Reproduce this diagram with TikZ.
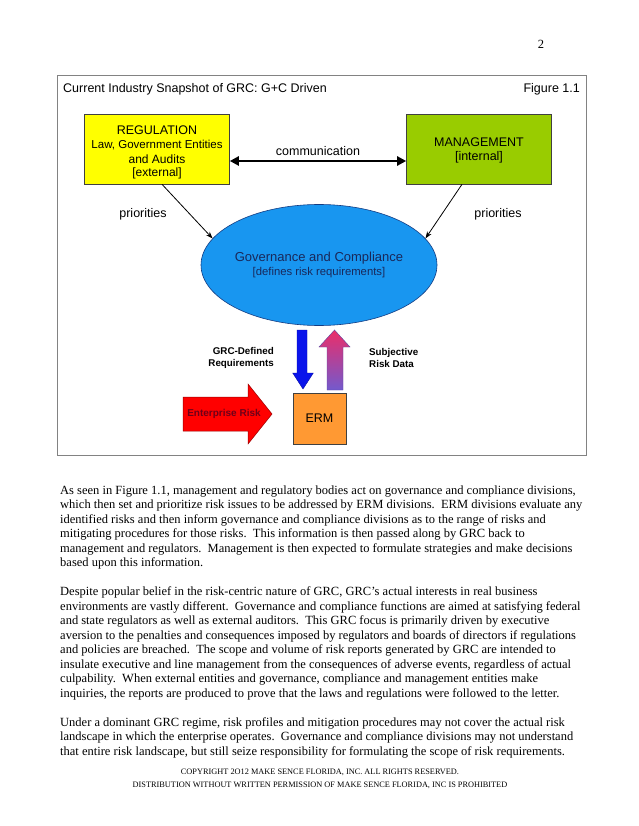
\documentclass[tikz,border=0pt]{standalone}
\usepackage{fontspec}
\setmainfont{Liberation Serif}
\newfontfamily\arialf{Liberation Sans}
\usetikzlibrary{arrows.meta,calc,shapes.geometric}
\definecolor{regyellow}{RGB}{255,255,0}
\definecolor{mgmtgreen}{RGB}{153,204,0}
\definecolor{gcblue}{RGB}{24,150,240}
\definecolor{gcedge}{RGB}{20,60,130}
\definecolor{gctext}{RGB}{25,40,90}
\definecolor{ermorange}{RGB}{255,153,51}
\definecolor{arrblue}{RGB}{10,20,235}
\definecolor{arrpinktop}{RGB}{235,45,105}
\definecolor{arrpinkbot}{RGB}{115,90,205}
\definecolor{arrred}{RGB}{255,0,0}
\definecolor{erisk}{RGB}{110,0,25}
\definecolor{framegray}{RGB}{130,130,130}
\begin{document}
\begin{tikzpicture}[x=1pt,y=-1pt,
  bodytxt/.style={anchor=base west,inner sep=0pt,font=\fontsize{12.5}{14.5}\selectfont},
  copytxt/.style={anchor=base,inner sep=0pt,font=\fontsize{8.3}{10}\selectfont},
  sanstxt/.style={inner sep=0pt,font=\arialf\fontsize{12.5}{14}\selectfont},
  boldlbl/.style={inner sep=0pt,align=#1,font=\arialf\bfseries\fontsize{9.8}{12}\selectfont},
  boxstyle/.style={draw=black!75,line width=0.6pt,minimum width=145pt,minimum height=70pt,inner sep=0pt,align=center,font=\arialf\fontsize{12}{14}\selectfont},
  thinarrow/.style={-{Stealth[length=7pt,width=5pt]},line width=0.8pt},
]
\useasboundingbox (0,0) rectangle (638,826);
\fill[white] (0,0) rectangle (638,826);

% page number
\node[anchor=base,inner sep=0pt,font=\fontsize{12.5}{14.5}\selectfont] (pagenum) at (541,49) {2};

% frame
\node[draw=framegray,line width=0.8pt,minimum width=529pt,minimum height=380pt,inner sep=0pt] (frame) at (321.5,265) {};
\node[sanstxt,anchor=base west] (title) at (63,93) {Current Industry Snapshot of GRC: G+C Driven};
\node[sanstxt,anchor=base east] (fig) at (580,93) {Figure 1.1};

% boxes
\node[boxstyle,fill=regyellow] (reg) at (157,149) {};
\node[sanstxt,font=\arialf\fontsize{12.5}{14}\selectfont] (regt1) at (157,130) {REGULATION};
\node[sanstxt,font=\arialf\fontsize{11.5}{14}\selectfont] (regt2) at (157,145) {Law, Government Entities};
\node[sanstxt,font=\arialf\fontsize{12}{14}\selectfont] (regt3) at (157,159) {and Audits};
\node[sanstxt,font=\arialf\fontsize{12}{14}\selectfont] (regt4) at (157,173) {[external]};

\node[boxstyle,fill=mgmtgreen] (mgmt) at (479,149) {};
\node[sanstxt] (mgt1) at (479,142) {MANAGEMENT};
\node[sanstxt] (mgt2) at (479,157) {[internal]};

% communication
\draw[{Triangle[length=9pt,width=9pt]}-{Triangle[length=9pt,width=9pt]},line width=2.6pt]
  ($(reg.east)+(0,12)$) -- ($(mgmt.west)+(0,12)$);
\node[sanstxt] (comm) at (318,151) {communication};

% ellipse
\node[ellipse,draw=gcedge,line width=0.6pt,fill=gcblue,minimum width=236pt,minimum height=121pt,inner sep=0pt] (gc) at (319,265) {};
\node[sanstxt,text=gctext,font=\arialf\fontsize{13}{15}\selectfont] (gct1) at (319,258) {Governance and Compliance};
\node[sanstxt,text=gctext,font=\arialf\fontsize{11.3}{14}\selectfont] (gct2) at (319,273) {[defines risk requirements]};

% priorities
\node[sanstxt] (prl) at (143,214) {priorities};
\node[sanstxt] (prr) at (498,214) {priorities};
\draw[thinarrow] ($(reg.south)+(5,0)$) -- (gc.166);
\draw[thinarrow] ($(mgmt.south)+(-17,0)$) -- (gc.14);

% block arrows
\filldraw[fill=arrblue,draw=arrblue!70!black,line width=0.4pt]
  (297,330) -- (307,330) -- (307,373) -- (313.3,373) -- (303,389) -- (292.7,373) -- (297,373) -- cycle;
\shade[top color=arrpinktop,bottom color=arrpinkbot,draw=arrpinkbot!80!black,line width=0.4pt]
  (334.5,330) -- (350,347) -- (343,347) -- (343,390) -- (327,390) -- (327,347) -- (319,347) -- cycle;
\filldraw[fill=arrred,draw=red!60!black,line width=0.5pt]
  (183,397) -- (248,397) -- (248,384) -- (272,414) -- (248,444) -- (248,431) -- (183,431) -- cycle;

\node[boldlbl=right,anchor=east] (grcdef) at (274,358) {GRC-Defined\\Requirements};
\node[boldlbl=left,anchor=west] (subj) at (369,358) {Subjective\\Risk Data};
\node[boldlbl=center,text=erisk,font=\arialf\bfseries\fontsize{10}{12}\selectfont] (ent) at (224,414) {Enterprise Risk};

\node[draw=black!75,line width=0.6pt,fill=ermorange,minimum width=53pt,minimum height=51pt,inner sep=0pt,font=\arialf\fontsize{12.5}{14}\selectfont] (erm) at (319.5,418.5) {ERM};

% body text
\node[bodytxt] (l1) at (60,494) {As seen in Figure 1.1, management and regulatory bodies act on governance and compliance divisions,};
\node[bodytxt] (l2) at (60,508.5) {which then set and prioritize risk issues to be addressed by ERM divisions.\ \ ERM divisions evaluate any};
\node[bodytxt] (l3) at (60,523) {identified risks and then inform governance and compliance divisions as to the range of risks and};
\node[bodytxt] (l4) at (60,537.5) {mitigating procedures for those risks.\ \ This information is then passed along by GRC back to};
\node[bodytxt] (l5) at (60,552) {management and regulators.\ \ Management is then expected to formulate strategies and make decisions};
\node[bodytxt] (l6) at (60,566.5) {based upon this information.};

\node[bodytxt] (l7) at (60,595.5) {Despite popular belief in the risk-centric nature of GRC, GRC’s actual interests in real business};
\node[bodytxt] (l8) at (60,610) {environments are vastly different.\ \ Governance and compliance functions are aimed at satisfying federal};
\node[bodytxt] (l9) at (60,624.5) {and state regulators as well as external auditors.\ \ This GRC focus is primarily driven by executive};
\node[bodytxt] (l10) at (60,639) {aversion to the penalties and consequences imposed by regulators and boards of directors if regulations};
\node[bodytxt] (l11) at (60,653.5) {and policies are breached.\ \ The scope and volume of risk reports generated by GRC are intended to};
\node[bodytxt] (l12) at (60,668) {insulate executive and line management from the consequences of adverse events, regardless of actual};
\node[bodytxt] (l13) at (60,682.5) {culpability.\ \ When external entities and governance, compliance and management entities make};
\node[bodytxt] (l14) at (60,697) {inquiries, the reports are produced to prove that the laws and regulations were followed to the letter.};

\node[bodytxt] (l15) at (60,726) {Under a dominant GRC regime, risk profiles and mitigation procedures may not cover the actual risk};
\node[bodytxt] (l16) at (60,740.5) {landscape in which the enterprise operates.\ \ Governance and compliance divisions may not understand};
\node[bodytxt] (l17) at (60,755) {that entire risk landscape, but still seize responsibility for formulating the scope of risk requirements.};

\node[copytxt] (c1) at (320,774) {COPYRIGHT 2O12 MAKE SENCE FLORIDA, INC. ALL RIGHTS RESERVED.};
\node[copytxt] (c2) at (320,787) {DISTRIBUTION WITHOUT WRITTEN PERMISSION OF MAKE SENCE FLORIDA, INC IS PROHIBITED};
\end{tikzpicture}
\end{document}
